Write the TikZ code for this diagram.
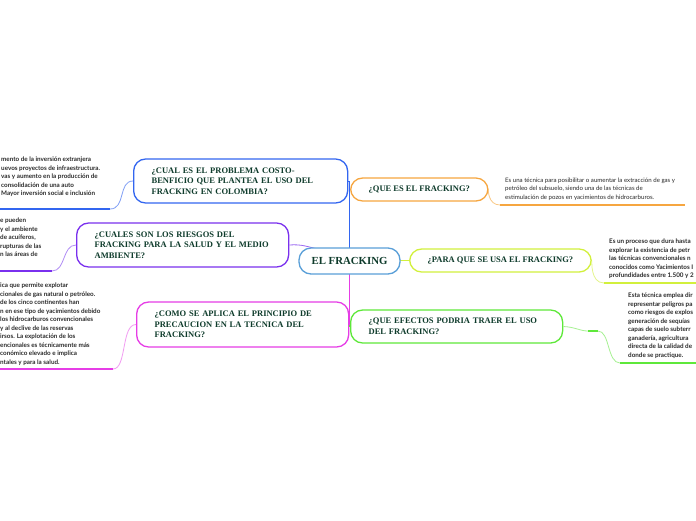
\documentclass[tikz,border=0pt]{standalone}
\usepackage{fontspec}
\setmainfont{Liberation Serif}
\newfontfamily\notefont{Lato}
\definecolor{deepgreen}{HTML}{0E3B2B}
\definecolor{notegray}{HTML}{2A2A2A}
\definecolor{hubblue}{HTML}{5A9FD8}
\definecolor{costoblue}{HTML}{3366F0}
\definecolor{costolight}{HTML}{7F9EF5}
\definecolor{riesgospurple}{HTML}{7A30EE}
\definecolor{riesgoslight}{HTML}{B08CF5}
\definecolor{precaumag}{HTML}{E63DE6}
\definecolor{precaulight}{HTML}{F29CF2}
\definecolor{queesorange}{HTML}{F6A640}
\definecolor{queeslight}{HTML}{F9C885}
\definecolor{parauseyellow}{HTML}{D2F03C}
\definecolor{parauselight}{HTML}{E4F58A}
\definecolor{efectosgreen}{HTML}{5EE83A}
\definecolor{efectoslight}{HTML}{A6F192}
\begin{document}
\begin{tikzpicture}[x=1pt, y=-1pt,
    every node/.style={inner sep=0pt},
    topic/.style={draw, fill=white, rounded corners=12pt, line width=1.3pt, text=deepgreen,
      font=\fontsize{8.5}{10.6}\selectfont\bfseries, align=left, anchor=west, inner xsep=18pt},
    note/.style={text=notegray, align=left, anchor=north west, font=\notefont\fontsize{6.3}{8.5}\selectfont\bfseries},
    thinnote/.style={text=notegray, align=left, anchor=north west, font=\notefont\fontsize{6.1}{8.5}\selectfont},
    twig/.style={line width=0.8pt},
    ledge/.style={line width=2pt}]
    \useasboundingbox [fill=white] (0,0) rectangle (696,520);
    \node [topic, draw=costoblue, text width=178pt, minimum height=44pt] (costo) at (133,181)
      {¿CUAL ES EL PROBLEMA COSTO-\\BENFICIO QUE PLANTEA EL USO DEL\\FRACKING EN COLOMBIA?};
    \node [topic, draw=riesgospurple, text width=176pt, minimum height=44pt] (riesgos) at (76,245)
      {¿CUALES SON LOS RIESGOS DEL\\FRACKING PARA LA SALUD Y EL MEDIO\\AMBIENTE?};
    \node [topic, draw=precaumag, text width=176pt, minimum height=45pt] (precaucion) at (136,324.5)
      {¿COMO SE APLICA EL PRINCIPIO DE\\PRECAUCION EN LA TECNICA DEL\\FRACKING?};
    \node [topic, draw=queesorange, minimum width=125pt, minimum height=23pt, align=center] (quees) at (350,189.5)
      {¿QUE ES EL FRACKING?};
    \node [topic, draw=parauseyellow, minimum width=168pt, minimum height=23pt, align=center] (parause) at (409,260.5)
      {¿PARA QUE SE USA EL FRACKING?};
    \node [topic, draw=efectosgreen, text width=176pt, minimum height=33pt] (efectos) at (350,326.5)
      {¿QUE EFECTOS PODRIA TRAER EL USO\\DEL FRACKING?};
    \draw [twig, efectosgreen] (349.5,274) coordinate (hubsouth) |- (efectos.west);
    \draw [twig, precaumag] (hubsouth) |- (precaucion.east);
    \draw [twig, queesorange] (349.5,248) coordinate (hubnorth) |- (quees.west);
    \draw [twig, costoblue] (hubnorth) |- (costo.east);
    \draw [twig, riesgoslight!60!riesgospurple] (riesgos.east) .. controls (302,244) and (308,247) .. (318,249) coordinate (hubwest);
    \draw [twig, parauseyellow] (400,260.5) coordinate (hubeast) -- (parause.west);
    \node [draw=hubblue, fill=white, line width=1.3pt, rounded corners=12pt, minimum width=101pt, minimum height=26pt,
      text=deepgreen, font=\fontsize{10.8}{12}\selectfont\bfseries] (fracking) at (349.5,261) {EL FRACKING};
    \node [note] (costotxt) at (1,157) {mento de la inversión extranjera\\uevos proyectos de infraestructura.\\vas y aumento en la producción de\\consolidación de una auto\\Mayor inversión social e inclusión};
    \node [note] (riesgostxt) at (0,218) {e pueden\\y el ambiente\\de acuíferos,\\rupturas de las\\n las áreas de};
    \node [note] (precauciontxt) at (0,283) {ica que permite explotar\\cionales de gas natural o petróleo.\\de los cinco continentes han\\n en ese tipo de yacimientos debido\\los hidrocarburos convencionales\\y al declive de las reservas\\irsos. La explotación de los\\encionales es técnicamente más\\conómico elevado e implica\\ntales y para la salud.};
    \node [thinnote] (queestxt) at (505,177.5) {Es una técnica para posibilitar o aumentar la extracción de gas y\\petróleo del subsuelo, siendo una de las técnicas de\\estimulación de pozos en yacimientos de hidrocarburos.};
    \node [note] (parausetxt) at (609,239) {Es un proceso que dura hasta\\explorar la existencia de petr\\las técnicas convencionales n\\conocidos como Yacimientos I\\profundidades entre 1.500 y 2};
    \node [note] (efectostxt) at (628,293) {Esta técnica emplea dir\\representar peligros pa\\como riesgos de explos\\generación de sequías\\capas de suelo subterr\\ganadería, agricultura\\directa de la calidad de\\donde se practique.};
    \coordinate (costoend) at (110,209);
    \coordinate (costoedge) at (0,209);
    \coordinate (riesgosend) at (52,271);
    \coordinate (riesgosedge) at (0,271);
    \coordinate (precaucionend) at (113,369);
    \coordinate (precaucionedge) at (0,369);
    \coordinate (queesend) at (500,205);
    \coordinate (queesedge) at (685,205);
    \coordinate (parauseend) at (604,283);
    \coordinate (parauseedge) at (696,283);
    \coordinate (efectosmid) at (588,331);
    \coordinate (efectosknot) at (598,331);
    \coordinate (efectosend) at (620,363);
    \coordinate (efectosedge) at (696,363);
    \draw [twig, costolight] (costo.west) .. controls (118,181) and (126,209) .. (costoend);
    \draw [ledge, costoblue] (costoend) -- (costoedge);
    \draw [twig, riesgoslight] (riesgos.west) .. controls (62,245) and (66,271) .. (riesgosend);
    \draw [ledge, riesgospurple] (riesgosend) -- (riesgosedge);
    \draw [twig, precaulight] (precaucion.west) .. controls (121,324.5) and (127,369) .. (precaucionend);
    \draw [ledge, precaumag] (precaucionend) -- (precaucionedge);
    \draw [twig, queeslight] (quees.east) .. controls (488,189.5) and (488,205) .. (queesend);
    \draw [ledge, queesorange] (queesend) -- (queesedge);
    \draw [twig, parauselight] (parause.east) .. controls (592,260.5) and (590,283) .. (parauseend);
    \draw [ledge, parauseyellow] (parauseend) -- (parauseedge);
    \draw [twig, efectoslight] (efectos.east) .. controls (575,327) and (580,331) .. (efectosmid);
    \draw [ledge, efectosgreen] (efectosmid) -- (efectosknot);
    \draw [twig, efectoslight] (efectosknot) .. controls (610,331) and (607,363) .. (efectosend);
    \draw [ledge, efectosgreen] (efectosend) -- (efectosedge);
\end{tikzpicture}
\end{document}
